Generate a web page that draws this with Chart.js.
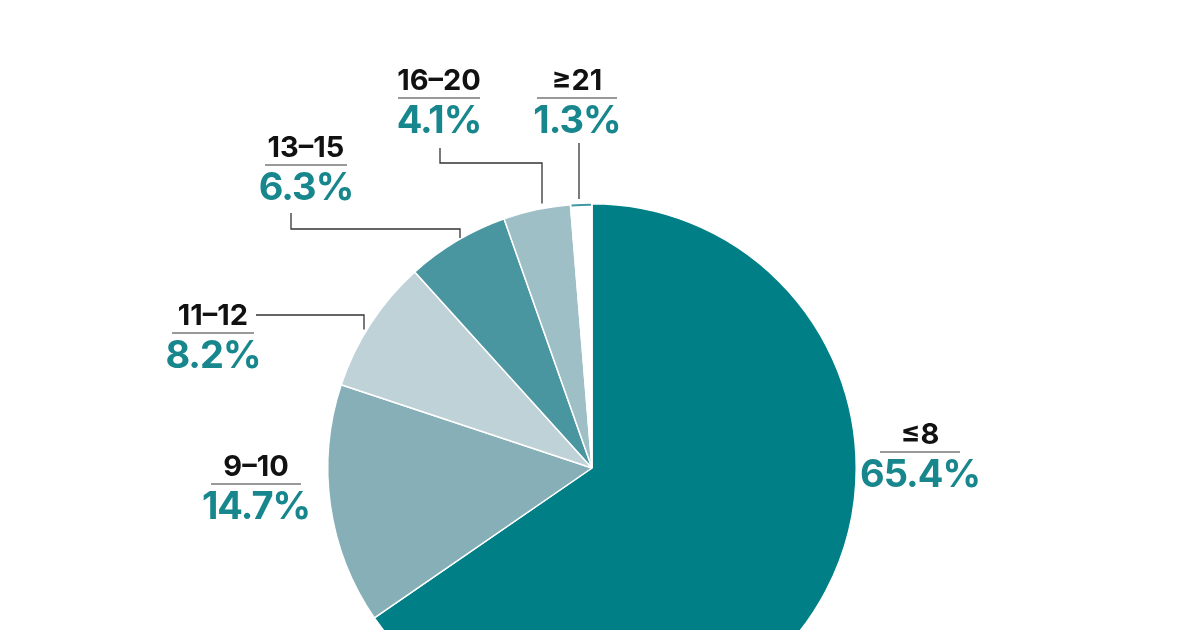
<!DOCTYPE html>
<html lang="en">
<head>
    <meta charset="UTF-8">
    <title>Distribución por grupo</title>
    <script src="https://cdn.jsdelivr.net/npm/chart.js"></script>
    <style>
        html, body {
            margin: 0;
            padding: 0;
            background: #fff;
            width: 1200px;
            height: 630px;
            overflow: hidden;
        }

        .chart-container {
            position: absolute;
            left: 0;
            top: 0;
            width: 1200px;
            height: 740px; /* the pie runs off the bottom of the picture */
        }
    </style>
</head>
<body>

<div class="chart-container">
    <canvas id="pieCanvas"></canvas>
</div>

<script>
    // data
    const categories = ['≤8', '9–10', '11–12', '13–15', '16–20', '≥21'];
    const shares = [65.4, 14.7, 8.2, 6.3, 4.1, 1.3];
    const shareLabels = ['65.4%', '14.7%', '8.2%', '6.3%', '4.1%', '1.3%'];

    const sliceColors = ['#007f87', '#87afb7', '#bfd2d8', '#4a96a0', '#9dbfc5', '#ffffff'];

    // where each label block sits (centre x, top of category text) and its leader line
    // leader: list of points, the last one is dropped straight down onto the pie edge
    const labelLayout = [
        {x: 920, y: 421, w: 80, leader: null},
        {x: 256, y: 453, w: 90, leader: null},
        {x: 213, y: 302, w: 82, leader: [[256, 315], [364, 315]]},
        {x: 306, y: 134, w: 82, leader: [[291, 213], [291, 229], [460, 229]]},
        {x: 439, y: 67, w: 82, leader: [[440, 148], [440, 163], [542, 163]]},
        {x: 577, y: 67, w: 80, leader: [[579, 143]]}
    ];

    const labelPlugin = {
        id: 'pieLabels',
        afterDatasetsDraw(chart) {
            const ctx = chart.ctx;
            const arcs = chart.getDatasetMeta(0).data;
            const cx = arcs[0].x, cy = arcs[0].y, r = arcs[0].outerRadius;

            // thin teal rim on the white slice
            const last = arcs[arcs.length - 1];
            ctx.save();
            ctx.strokeStyle = '#3f9aa3';
            ctx.lineWidth = 2;
            ctx.beginPath();
            ctx.arc(cx, cy, r - 1, last.startAngle + 0.004, last.endAngle - 0.004);
            ctx.stroke();
            ctx.restore();

            ctx.save();
            categories.forEach((cat, i) => {
                const L = labelLayout[i];
                ctx.textAlign = 'center';
                ctx.textBaseline = 'top';
                ctx.fillStyle = '#111111';
                ctx.letterSpacing = '0px';
                ctx.font = '700 29px Inter, "Open Sans", sans-serif';
                ctx.fillText(cat, L.x, L.y);

                ctx.strokeStyle = '#777777';
                ctx.lineWidth = 1.3;
                ctx.beginPath();
                ctx.moveTo(L.x - L.w / 2, L.y + 31);
                ctx.lineTo(L.x + L.w / 2, L.y + 31);
                ctx.stroke();

                ctx.fillStyle = '#17878d';
                ctx.letterSpacing = '-1px';
                ctx.font = '700 38px Inter, "Open Sans", sans-serif';
                ctx.fillText(shareLabels[i], L.x, L.y + 36);

                if (L.leader) {
                    ctx.strokeStyle = '#333333';
                    ctx.lineWidth = 1.3;
                    ctx.beginPath();
                    L.leader.forEach((p, k) => {
                        if (k === 0) ctx.moveTo(p[0], p[1]);
                        else ctx.lineTo(p[0], p[1]);
                    });
                    const end = L.leader[L.leader.length - 1];
                    const dx = end[0] - cx;
                    const edgeY = cy - Math.sqrt(Math.max(r * r - dx * dx, 0));
                    ctx.lineTo(end[0], Math.max(edgeY - 5, end[1] + 9));
                    ctx.stroke();
                }
            });
            ctx.restore();
        }
    };

    const ctx = document.getElementById('pieCanvas').getContext('2d');
    new Chart(ctx, {
        type: 'pie',
        data: {
            labels: categories,
            datasets: [{
                data: shares,
                backgroundColor: sliceColors,
                borderColor: '#ffffff',
                borderWidth: 1.5
            }]
        },
        options: {
            responsive: true,
            maintainAspectRatio: false,
            animation: false,
            layout: {
                padding: {left: 327, right: 343, top: 203, bottom: 7}
            },
            plugins: {
                legend: {display: false},
                tooltip: {enabled: false}
            }
        },
        plugins: [labelPlugin]
    });
</script>
</body>
</html>
